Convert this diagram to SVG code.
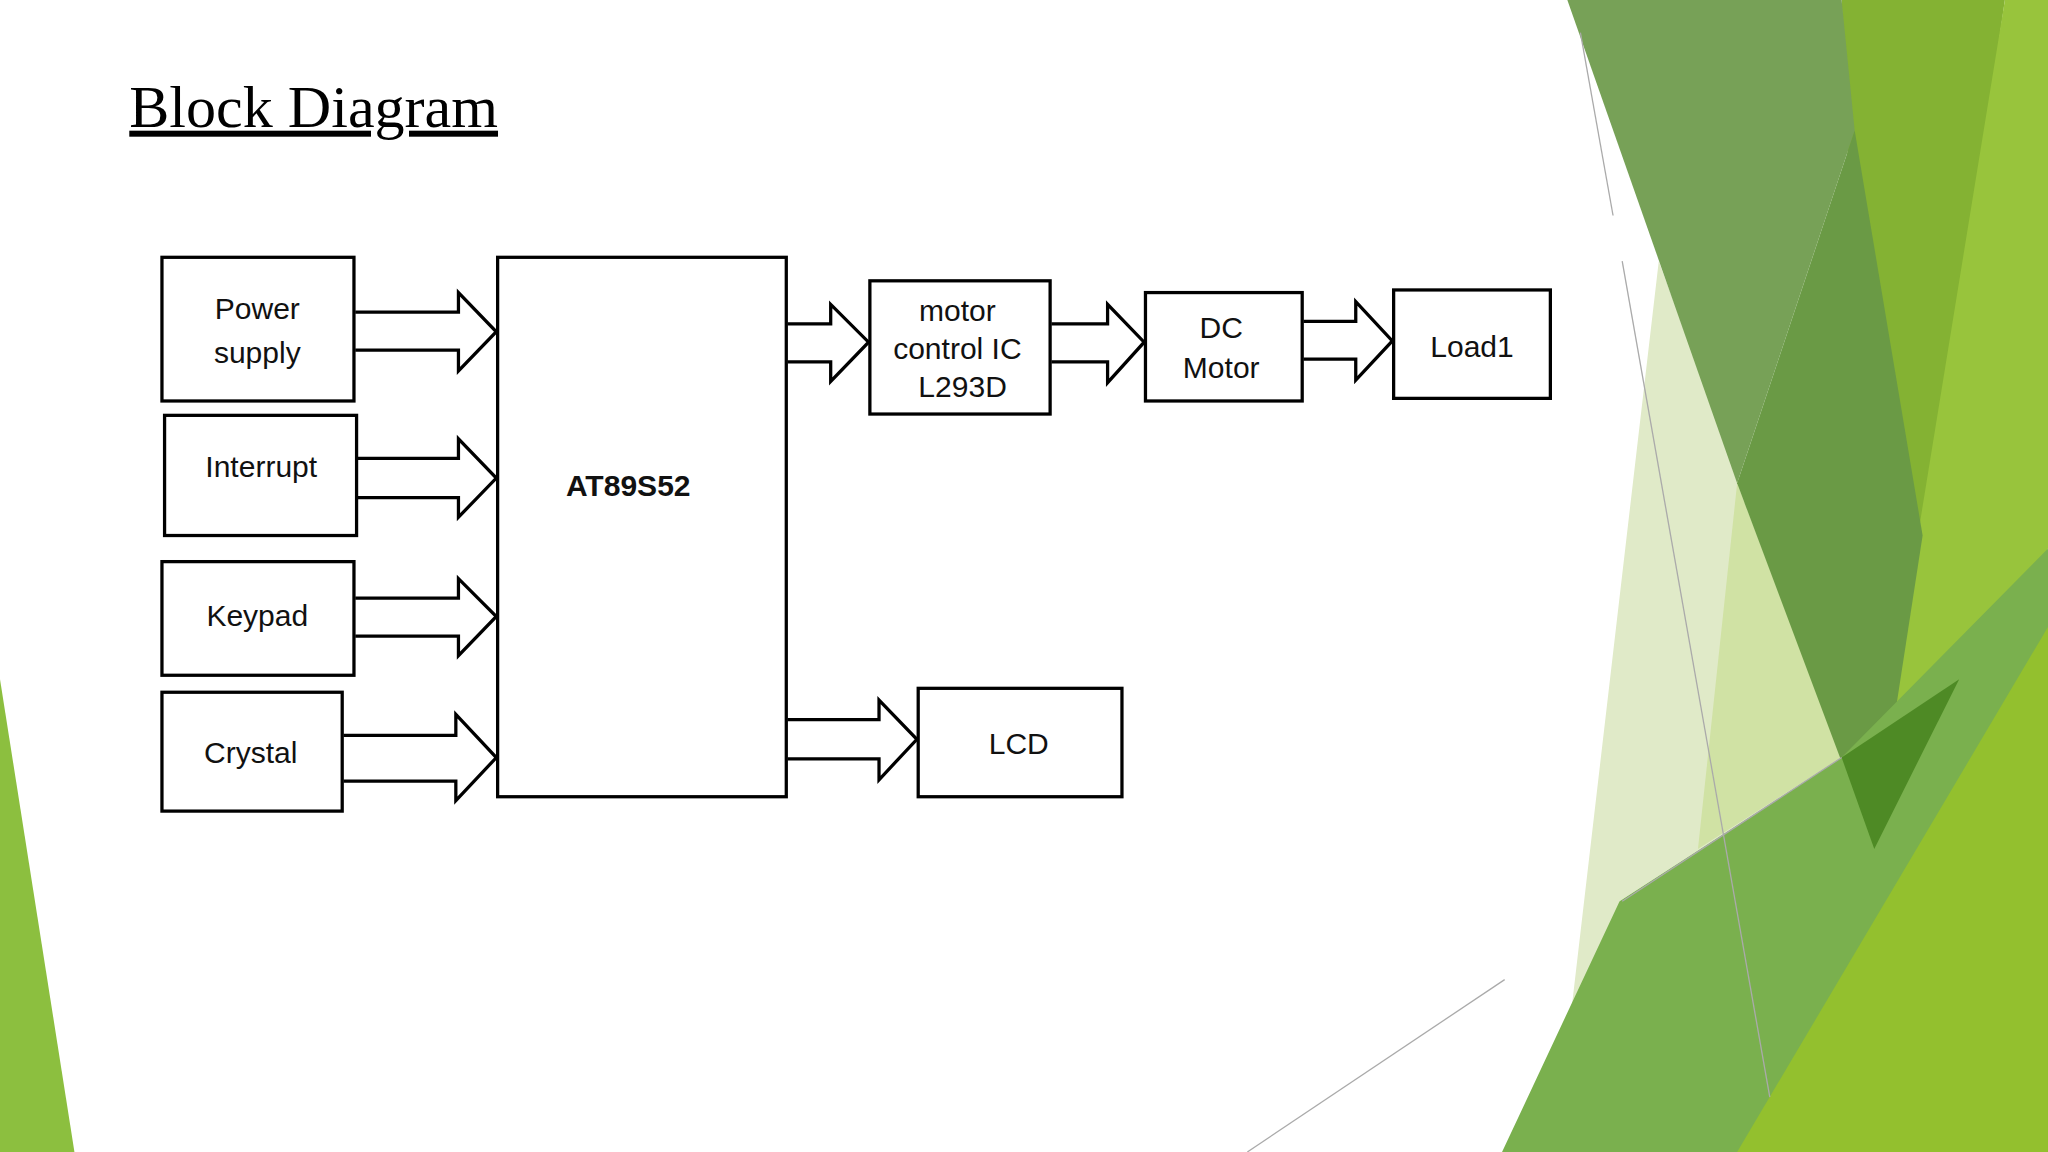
<svg xmlns="http://www.w3.org/2000/svg" width="2048" height="1152" viewBox="0 0 2048 1152">
<style>
.box{fill:#fff;stroke:#000;stroke-width:2.5}
.arr{fill:#fff;stroke:#000;stroke-width:2.5;stroke-linejoin:miter}
.t{font-family:"Liberation Sans",Arial,sans-serif;font-size:23px;fill:#111;text-anchor:middle;dominant-baseline:central}
.gl{stroke:#aaa;stroke-width:1;fill:none}
</style>
<rect width="2048" height="1152" fill="#fff"/>
<g transform="scale(1.30612)">
<g id="background">
<polygon points="0,520 0,882 57,882" fill="#8cbf3f"/>
<polygon points="1270,200 1410,580 1240,690 1240,750 1220,750 1200,800" fill="#e0eac8"/>
<polygon points="1330,370 1410,580 1300,650" fill="#d0e2a4"/>
<polygon points="1410,0 1535,0 1475,420 1435,650" fill="#84b233"/>
<polygon points="1535,0 1568,0 1568,420 1420,700 1470,400" fill="#98c43c"/>
<polygon points="1200,0 1410,0 1420,100 1330,370" fill="#77a157"/>
<polygon points="1330,370 1420,100 1472,410 1435,650" fill="#6a9a45"/>
<polygon points="1150,882 1568,882 1568,420 1410,580 1240,690" fill="#7ab04e"/>
<polygon points="1410,580 1500,520 1435,650" fill="#4e8a25"/>
<polygon points="1330,882 1568,882 1568,480" fill="#93c02e"/>
<line class="gl" x1="1210" y1="25" x2="1235" y2="165"/>
<line class="gl" x1="1242" y1="200" x2="1355" y2="840"/>
<line class="gl" x1="955" y1="882" x2="1152" y2="750"/>
<line class="gl" x1="1242" y1="690" x2="1410" y2="580"/>
</g>
<text x="99" y="97" font-family="Liberation Serif,serif" font-size="46" text-decoration="underline" fill="#000">Block Diagram</text>
<g id="connectors">
<path class="arr" d="M272 239 H351 V224 L380 254 L351 284 V268 H272"/>
<path class="arr" d="M274 351 H351 V336 L380 366 L351 396 V381 H274"/>
<path class="arr" d="M272 458 H351 V443 L380 472 L351 502 V487 H272"/>
<path class="arr" d="M263 563 H349 V547 L380 580 L349 613 V598 H263"/>
<path class="arr" d="M603 248 H636 V233 L665 262 L636 292 V277 H603"/>
<path class="arr" d="M805 248 H848 V233 L876 262 L848 293 V277 H805"/>
<path class="arr" d="M998 246 H1038 V231 L1066 261 L1038 291 V275 H998"/>
<path class="arr" d="M603 551 H673 V536 L702 566 L673 597 V581 H603"/>
</g>
<g id="power"><rect class="box" x="124" y="197" width="147" height="110"/><text class="t" x="197" y="236">Power</text><text class="t" x="197" y="270">supply</text></g>
<g id="interrupt"><rect class="box" x="126" y="318" width="147" height="92"/><text class="t" x="200" y="357">Interrupt</text></g>
<g id="keypad"><rect class="box" x="124" y="430" width="147" height="87"/><text class="t" x="197" y="471">Keypad</text></g>
<g id="crystal"><rect class="box" x="124" y="530" width="138" height="91"/><text class="t" x="192" y="576">Crystal</text></g>
<g id="mcu"><rect class="box" x="381" y="197" width="221" height="413"/><text class="t" x="481" y="372" font-weight="bold">AT89S52</text></g>
<g id="motoric"><rect class="box" x="666" y="215" width="138" height="102"/><text class="t" x="733" y="238">motor</text><text class="t" x="733" y="267">control IC</text><text class="t" x="737" y="296">L293D</text></g>
<g id="dcmotor"><rect class="box" x="877" y="224" width="120" height="83"/><text class="t" x="935" y="251">DC</text><text class="t" x="935" y="281">Motor</text></g>
<g id="load1"><rect class="box" x="1067" y="222" width="120" height="83"/><text class="t" x="1127" y="265">Load1</text></g>
<g id="lcd"><rect class="box" x="703" y="527" width="156" height="83"/><text class="t" x="780" y="569">LCD</text></g>
</g>
</svg>
